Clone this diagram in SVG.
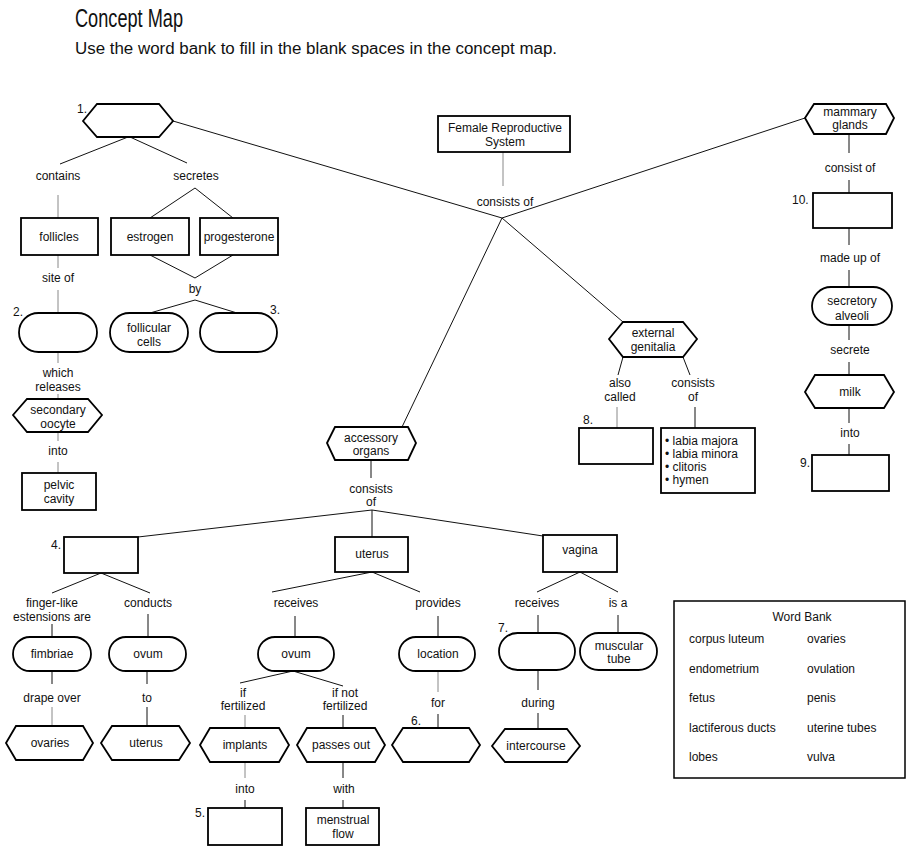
<svg xmlns="http://www.w3.org/2000/svg" width="910" height="851" viewBox="0 0 910 851">
<style>
.n{fill:#fff;stroke:#000;stroke-width:1.8}
.c line,.c polyline{stroke:#111;stroke-width:1;fill:none}
.c .g{stroke:#888}
text{font-family:"Liberation Sans",Arial,sans-serif;font-size:12px;fill:#111}
.m{text-anchor:middle}
.title{font-size:26px}
.sub{font-size:16px}
</style>
<rect width="910" height="851" fill="#fff"/>
<text class="title" x="75" y="27" textLength="108" lengthAdjust="spacingAndGlyphs">Concept Map</text>
<text class="sub" x="75" y="54" textLength="482" lengthAdjust="spacingAndGlyphs">Use the word bank to fill in the blank spaces in the concept map.</text>

<g id="connectors" class="c">
<line x1="173" y1="121" x2="502" y2="218"/>
<line x1="502" y1="218" x2="805" y2="118"/>
<line x1="502" y1="218" x2="623" y2="322"/>
<line x1="502" y1="218" x2="402" y2="427"/>
<line class="g" x1="503" y1="152" x2="503" y2="186"/>
<line x1="128" y1="137" x2="60" y2="164"/>
<line x1="130" y1="137" x2="187" y2="163"/>
<line class="g" x1="58" y1="195" x2="58" y2="218"/>
<polyline points="150,218 195,188 233,218"/>
<polyline points="150,255 195,278 233,255"/>
<polyline points="150,313 195,300 237,313"/>
<line class="g" x1="58" y1="255" x2="58" y2="268"/>
<line class="g" x1="58" y1="290" x2="58" y2="313"/>
<line class="g" x1="58" y1="352" x2="58" y2="363"/>
<line class="g" x1="58" y1="394" x2="58" y2="399"/>
<line class="g" x1="58" y1="432" x2="58" y2="441"/>
<line class="g" x1="58" y1="462" x2="58" y2="473"/>
<line x1="849" y1="134" x2="849" y2="153"/>
<line x1="849" y1="180" x2="849" y2="193"/>
<line x1="849" y1="228" x2="849" y2="245"/>
<line x1="849" y1="270" x2="849" y2="287"/>
<line x1="849" y1="325" x2="849" y2="340"/>
<line x1="849" y1="362" x2="849" y2="375"/>
<line x1="849" y1="408" x2="849" y2="423"/>
<line x1="849" y1="444" x2="849" y2="455"/>
<line x1="623" y1="357" x2="618" y2="375"/>
<line x1="683" y1="357" x2="690" y2="375"/>
<line class="g" x1="617" y1="407" x2="617" y2="428"/>
<line x1="695" y1="407" x2="695" y2="428"/>
<line x1="371" y1="460" x2="371" y2="478"/>
<polyline points="138,537 372,510 543,536"/>
<line x1="372" y1="510" x2="372" y2="537"/>
<polyline points="52,593 101,573 150,593"/>
<line x1="52" y1="624" x2="52" y2="637"/>
<line x1="148" y1="614" x2="148" y2="637"/>
<line x1="52" y1="671" x2="52" y2="684"/>
<line class="g" x1="52" y1="707" x2="52" y2="726"/>
<line x1="147" y1="671" x2="147" y2="684"/>
<line x1="147" y1="707" x2="147" y2="726"/>
<polyline points="272,592 372,572 420,592"/>
<line x1="295" y1="616" x2="295" y2="637"/>
<line x1="438" y1="616" x2="438" y2="637"/>
<polyline points="240,683 293,671 343,686"/>
<line class="g" x1="245" y1="715" x2="245" y2="728"/>
<line x1="343" y1="715" x2="343" y2="728"/>
<line class="g" x1="438" y1="671" x2="438" y2="692"/>
<line x1="438" y1="714" x2="438" y2="728"/>
<line class="g" x1="245" y1="762" x2="245" y2="778"/>
<line x1="245" y1="800" x2="245" y2="808"/>
<line x1="343" y1="762" x2="343" y2="778"/>
<line x1="343" y1="800" x2="343" y2="808"/>
<polyline points="537,592 580,572 618,592"/>
<line x1="538" y1="615" x2="538" y2="634"/>
<line x1="618" y1="615" x2="618" y2="634"/>
<line x1="538" y1="670" x2="538" y2="690"/>
<line x1="538" y1="713" x2="538" y2="729"/>
</g>

<g id="n1"><polygon class="n" points="83,121 97,104 159,104 173,121 159,137 97,137"/><text x="77" y="113">1.</text></g>
<g id="l-contains"><text class="m" x="58" y="180">contains</text></g>
<g id="l-secretes"><text class="m" x="196" y="180">secretes</text></g>
<g id="follicles"><rect class="n" x="21" y="218" width="77" height="37"/><text class="m" x="59" y="241">follicles</text></g>
<g id="estrogen"><rect class="n" x="111" y="218" width="78" height="37"/><text class="m" x="150" y="241">estrogen</text></g>
<g id="progesterone"><rect class="n" x="200" y="218" width="78" height="37"/><text class="m" x="239" y="241">progesterone</text></g>
<g id="l-siteof"><text class="m" x="58" y="282">site of</text></g>
<g id="l-by"><text class="m" x="195" y="293">by</text></g>
<g id="n2"><rect class="n" x="19" y="313" width="78" height="39" rx="19.5"/><text x="13" y="316">2.</text></g>
<g id="follicular"><rect class="n" x="110" y="313" width="78" height="39" rx="19.5"/><text class="m" x="149" y="332">follicular</text><text class="m" x="149" y="346">cells</text></g>
<g id="n3"><rect class="n" x="200" y="313" width="77" height="39" rx="19.5"/><text x="270" y="314">3.</text></g>
<g id="l-releases"><text class="m" x="58" y="377">which</text><text class="m" x="58" y="391">releases</text></g>
<g id="oocyte"><polygon class="n" points="13,415 27,399 88,399 102,415 88,432 27,432"/><text class="m" x="58" y="414">secondary</text><text class="m" x="58" y="428">oocyte</text></g>
<g id="l-into1"><text class="m" x="58" y="455">into</text></g>
<g id="pelvic"><rect class="n" x="22" y="473" width="74" height="37"/><text class="m" x="59" y="489">pelvic</text><text class="m" x="59" y="503">cavity</text></g>

<g id="frs"><rect class="n" x="438" y="116" width="132" height="36"/><text class="m" x="505" y="132">Female Reproductive</text><text class="m" x="505" y="146">System</text></g>
<g id="l-consistsof"><text class="m" x="505" y="206">consists of</text></g>

<g id="mammary"><polygon class="n" points="805,118 814,104 886,104 894,118 886,134 814,134"/><text class="m" x="850" y="116">mammary</text><text class="m" x="850" y="129">glands</text></g>
<g id="l-consistof"><text class="m" x="850" y="172">consist of</text></g>
<g id="n10"><rect class="n" x="813" y="193" width="79" height="35"/><text x="792" y="204">10.</text></g>
<g id="l-madeup"><text class="m" x="850" y="262">made up of</text></g>
<g id="alveoli"><rect class="n" x="812" y="287" width="80" height="38" rx="19"/><text class="m" x="852" y="305">secretory</text><text class="m" x="852" y="320">alveoli</text></g>
<g id="l-secrete"><text class="m" x="850" y="354">secrete</text></g>
<g id="milk"><polygon class="n" points="805,392 815,375 884,375 894,392 884,408 815,408"/><text class="m" x="850" y="396">milk</text></g>
<g id="l-into9"><text class="m" x="850" y="437">into</text></g>
<g id="n9"><rect class="n" x="812" y="455" width="77" height="36"/><text x="800" y="467">9.</text></g>

<g id="external"><polygon class="n" points="609,339 623,322 683,322 697,339 683,357 623,357"/><text class="m" x="653" y="337">external</text><text class="m" x="653" y="351">genitalia</text></g>
<g id="l-alsocalled"><text class="m" x="620" y="387">also</text><text class="m" x="620" y="401">called</text></g>
<g id="l-consistsof2"><text class="m" x="693" y="387">consists</text><text class="m" x="693" y="401">of</text></g>
<g id="n8"><rect class="n" x="579" y="428" width="74" height="36"/><text x="583" y="424">8.</text></g>
<g id="parts"><rect class="n" x="661" y="428" width="94" height="65"/><text x="665" y="445">• labia majora</text><text x="665" y="458">• labia minora</text><text x="665" y="471">• clitoris</text><text x="665" y="484">• hymen</text></g>

<g id="accessory"><polygon class="n" points="327,443 335,427 408,427 416,443 408,460 335,460"/><text class="m" x="371" y="442">accessory</text><text class="m" x="371" y="455">organs</text></g>
<g id="l-consistsof3"><text class="m" x="371" y="493">consists</text><text class="m" x="371" y="506">of</text></g>
<g id="n4"><rect class="n" x="64" y="537" width="74" height="36"/><text x="51" y="549">4.</text></g>
<g id="uterus-box"><rect class="n" x="335" y="537" width="73" height="35"/><text class="m" x="372" y="558">uterus</text></g>
<g id="vagina"><rect class="n" x="543" y="535" width="74" height="37"/><text class="m" x="580" y="554">vagina</text></g>

<g id="l-finger"><text class="m" x="52" y="607">finger-like</text><text class="m" x="52" y="621">estensions are</text></g>
<g id="l-conducts"><text class="m" x="148" y="607">conducts</text></g>
<g id="fimbriae"><rect class="n" x="13" y="637" width="78" height="34" rx="17"/><text class="m" x="52" y="658">fimbriae</text></g>
<g id="ovum1"><rect class="n" x="109" y="637" width="77" height="34" rx="17"/><text class="m" x="148" y="658">ovum</text></g>
<g id="l-drape"><text class="m" x="52" y="702">drape over</text></g>
<g id="l-to"><text class="m" x="147" y="702">to</text></g>
<g id="ovaries"><polygon class="n" points="6,743 16,726 83,726 93,743 83,760 16,760"/><text class="m" x="50" y="747">ovaries</text></g>
<g id="uterus-hex"><polygon class="n" points="101,743 112,726 179,726 190,743 179,760 112,760"/><text class="m" x="146" y="747">uterus</text></g>

<g id="l-receives1"><text class="m" x="296" y="607">receives</text></g>
<g id="l-provides"><text class="m" x="438" y="607">provides</text></g>
<g id="ovum2"><rect class="n" x="258" y="637" width="76" height="34" rx="17"/><text class="m" x="296" y="658">ovum</text></g>
<g id="location"><rect class="n" x="399" y="637" width="76" height="34" rx="17"/><text class="m" x="438" y="658">location</text></g>
<g id="l-iffert"><text class="m" x="243" y="697">if</text><text class="m" x="243" y="710">fertilized</text></g>
<g id="l-ifnot"><text class="m" x="345" y="697">if not</text><text class="m" x="345" y="710">fertilized</text></g>
<g id="l-for"><text class="m" x="438" y="707">for</text></g>
<g id="implants"><polygon class="n" points="200,745 210,728 279,728 289,745 279,762 210,762"/><text class="m" x="245" y="749">implants</text></g>
<g id="passes"><polygon class="n" points="297,745 307,728 375,728 385,745 375,762 307,762"/><text class="m" x="341" y="749">passes out</text></g>
<g id="n6"><polygon class="n" points="392,745 403,728 469,728 480,745 469,762 403,762"/><text x="411" y="725">6.</text></g>
<g id="l-into5"><text class="m" x="245" y="793">into</text></g>
<g id="l-with"><text class="m" x="344" y="793">with</text></g>
<g id="n5"><rect class="n" x="208" y="808" width="74" height="37"/><text x="195" y="817">5.</text></g>
<g id="menstrual"><rect class="n" x="306" y="808" width="73" height="37"/><text class="m" x="343" y="824">menstrual</text><text class="m" x="343" y="838">flow</text></g>

<g id="l-receives2"><text class="m" x="537" y="607">receives</text></g>
<g id="l-isa"><text class="m" x="618" y="607">is a</text></g>
<g id="n7"><rect class="n" x="499" y="633" width="76" height="37" rx="18.5"/><text x="498" y="632">7.</text></g>
<g id="muscular"><rect class="n" x="580" y="633" width="77" height="37" rx="18.5"/><text class="m" x="619" y="650">muscular</text><text class="m" x="619" y="663">tube</text></g>
<g id="l-during"><text class="m" x="538" y="707">during</text></g>
<g id="intercourse"><polygon class="n" points="492,746 505,729 567,729 580,746 567,762 505,762"/><text class="m" x="536" y="750">intercourse</text></g>

<g id="wordbank"><rect x="674" y="601" width="231" height="177" fill="#fff" stroke="#000" stroke-width="1.5"/>
<text class="m" x="802" y="621">Word Bank</text>
<text x="689" y="643">corpus luteum</text><text x="807" y="643">ovaries</text>
<text x="689" y="673">endometrium</text><text x="807" y="673">ovulation</text>
<text x="689" y="702">fetus</text><text x="807" y="702">penis</text>
<text x="689" y="732">lactiferous ducts</text><text x="807" y="732">uterine tubes</text>
<text x="689" y="761">lobes</text><text x="807" y="761">vulva</text>
</g>
</svg>
